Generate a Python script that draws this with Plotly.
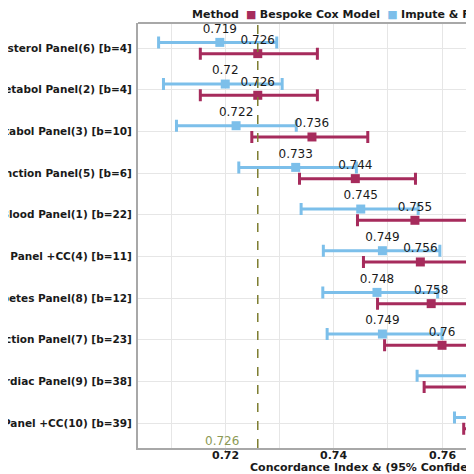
import plotly.graph_objects as go

# Panels, top to bottom
panels = [
    "Cholesterol Panel(6) [b=4]",
    "Basic Metabol Panel(2) [b=4]",
    "Comp Metabol Panel(3) [b=10]",
    "Liver Function Panel(5) [b=6]",
    "Complete Blood Panel(1) [b=22]",
    "Comp Metabol Panel +CC(4) [b=11]",
    "Diabetes Panel(8) [b=12]",
    "Infection Panel(7) [b=23]",
    "Cardiac Panel(9) [b=38]",
    "Cardiac Panel +CC(10) [b=39]",
]

# Impute & Full Cox Model
impute_est = [0.719, 0.720, 0.722, 0.733, 0.745, 0.749, 0.748, 0.749, 0.766, 0.773]
impute_lo = [0.7077, 0.7086, 0.7110, 0.7225, 0.7340, 0.7381, 0.7380, 0.7388, 0.7554, 0.7623]
impute_hi = [0.7295, 0.7305, 0.7331, 0.7442, 0.7556, 0.7596, 0.7592, 0.7600, 0.7766, 0.7837]

# Bespoke Cox Model
bespoke_est = [0.726, 0.726, 0.736, 0.744, 0.755, 0.756, 0.758, 0.760, 0.767, 0.775]
bespoke_lo = [0.7154, 0.7154, 0.7249, 0.7337, 0.7444, 0.7455, 0.7481, 0.7494, 0.7567, 0.7640]
bespoke_hi = [0.7370, 0.7370, 0.7463, 0.7551, 0.7658, 0.7665, 0.7685, 0.7705, 0.7775, 0.7860]

baseline = 0.726

x_ticks = [0.72, 0.74, 0.76]

BLUE = '#7cbfea'
RED = '#a62b5c'
OLIVE = '#7d7d30'
FONT = 'DejaVu Sans'

rows = list(range(len(panels)))
dodge = 0.135

fig = go.Figure()

for name, est, lo, hi, color, off in [
    ('Impute & Full Cox Model', impute_est, impute_lo, impute_hi, BLUE, -dodge),
    ('Bespoke Cox Model', bespoke_est, bespoke_lo, bespoke_hi, RED, dodge),
]:
    fig.add_trace(go.Scatter(
        x=est,
        y=[r + off for r in rows],
        mode='markers+text',
        name=name,
        marker=dict(symbol='square', size=9, color=color),
        error_x=dict(
            type='data', symmetric=False,
            array=[h - e for h, e in zip(hi, est)],
            arrayminus=[e - l for e, l in zip(est, lo)],
            color=color, thickness=3, width=6,
        ),
        text=[f"{v:g}" for v in est],
        textposition='top center',
        textfont=dict(family=FONT, size=12, color='#1a1a1a'),
        cliponaxis=False,
        showlegend=False,
    ))

# reference line for the best baseline
fig.add_shape(type='line', xref='x', yref='paper', x0=baseline, x1=baseline, y0=0, y1=1,
              line=dict(color=OLIVE, width=1.5, dash='dash'))
fig.add_annotation(x=baseline, xref='x', y=0.0165, yref='paper', text=f"{baseline:g}",
                   xanchor='right', yanchor='middle', xshift=-17, showarrow=False,
                   font=dict(family=FONT, size=12, color='#8c9a55'))

# top frame line (plot is cut off on the right)
fig.add_shape(type='line', xref='paper', yref='paper', x0=0, x1=1.2, y0=1, y1=1,
              line=dict(color='#a8a8a8', width=2))

# legend drawn as text
legend_text = ("<b>Method</b>  <span style='color:%s'>■</span> <b>Bespoke Cox Model</b>  "
               "<span style='color:%s'>■</span> <b>Impute &amp; Full Cox Model</b>") % (RED, BLUE)
fig.add_annotation(x=0.1548, xref='paper', y=1.021, yref='paper', text=legend_text,
                   xanchor='left', yanchor='middle', showarrow=False,
                   font=dict(family=FONT, size=11, color='#1a1a1a'))

# x tick labels, placed tight under the axis
for t in x_ticks:
    fig.add_annotation(x=t, xref='x', y=-0.017, yref='paper', text=f"<b>{t:g}</b>",
                       xanchor='center', yanchor='middle', showarrow=False,
                       font=dict(family=FONT, size=11, color='#1a1a1a'))

# x axis title
fig.add_annotation(x=0.327, xref='paper', y=-0.045, yref='paper',
                   text="<b>Concordance Index &amp; (95% Confidence Interval)</b>",
                   xanchor='left', yanchor='middle', showarrow=False,
                   font=dict(family=FONT, size=11, color='#1a1a1a'))

# page body keeps its default 8px margin, so the figure is 8px smaller
fig.update_layout(
    width=466, height=466,
    margin=dict(l=130, r=0, t=15, b=26),
    template='none',
    plot_bgcolor='white', paper_bgcolor='white',
    font=dict(family=FONT, size=11, color='#1a1a1a'),
    showlegend=False,
    xaxis=dict(
        range=[0.7039, 0.7659],
        tickvals=x_ticks,
        showticklabels=False,
        ticks='outside', ticklen=3, tickcolor='#a8a8a8',
        showgrid=True, gridcolor='#e6e6e6', gridwidth=1,
        minor=dict(dtick=0.01, showgrid=True, gridcolor='#e6e6e6', gridwidth=1),
        showline=True, linecolor='#a8a8a8', linewidth=2,
        zeroline=False, automargin=False,
    ),
    yaxis=dict(
        range=[9.6, -0.6],
        tickvals=rows,
        ticktext=[f"<b>{p}</b>" for p in panels],
        ticks='', ticklabelstandoff=2,
        showgrid=True, gridcolor='#e6e6e6', gridwidth=1,
        showline=True, linecolor='#a8a8a8', linewidth=2,
        zeroline=False, automargin=False,
        tickfont=dict(family=FONT, size=10.5, color='#1a1a1a'),
    ),
)

fig.write_html("out.html")
